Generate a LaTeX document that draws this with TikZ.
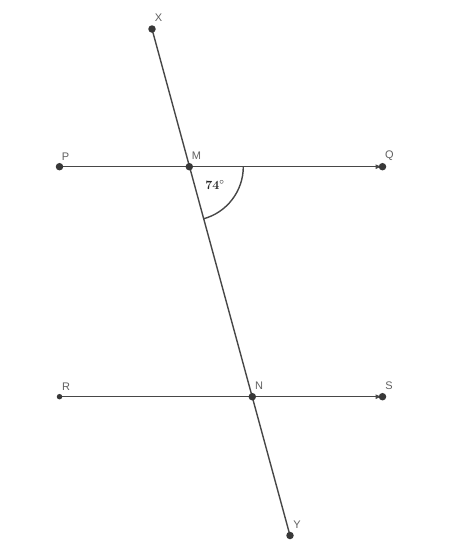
\documentclass[tikz,border=0pt]{standalone}
\usepackage{fontspec}
\newfontfamily\lblfont{Liberation Sans}
\usetikzlibrary{arrows.meta,calc}
\begin{document}
\begin{tikzpicture}[x=1pt,y=-1pt,
  seg/.style={draw=black!72, line width=1.4pt},
  pt/.style={circle, fill=black!78, inner sep=0pt, minimum size=7.5pt},
  spt/.style={circle, fill=black!78, inner sep=0pt, minimum size=5.5pt},
  lbl/.style={text=black!62, font=\lblfont\fontsize{11}{13}\selectfont, inner sep=0pt},
  tip/.style={-{Latex[length=7pt,width=5pt]}}]
\useasboundingbox (0,0) rectangle (474,558);
\fill[white] (0,0) rectangle (474,558);
\coordinate (X) at (152,29);
\coordinate (Y) at (290,535.5);
\coordinate (M) at (189.3,166.7);
\coordinate (N) at (252.3,396.7);
\coordinate (P) at (59.5,166.7);
\coordinate (Q) at (382.5,166.7);
\coordinate (R) at (59.5,396.7);
\coordinate (S) at (382.5,396.7);
% lines
\draw[seg] (X) -- (Y);
\draw[seg,tip] (P) -- (Q);
\draw[seg,tip] (R) -- (S);
% angle arc
\draw[seg] ($(M)+(54,0)$) arc[start angle=0, end angle=74.8, radius=54] coordinate (arcend);
% dots
\node[pt] (Xd) at (X) {};
\node[pt] (Yd) at (Y) {};
\node[pt] (Md) at (M) {};
\node[pt] (Nd) at (N) {};
\node[pt] (Pd) at (P) {};
\node[pt] (Qd) at (Q) {};
\node[spt] (Rd) at (R) {};
\node[pt] (Sd) at (S) {};
% labels
\node[lbl] (Xl) at (158.5,18) {X};
\node[lbl] (Ml) at (196.5,155.5) {M};
\node[lbl] (Pl) at (65.5,156.5) {P};
\node[lbl] (Ql) at (389.5,156) {Q};
\node[lbl] (Rl) at (66,386.5) {R};
\node[lbl] (Nl) at (259,385.5) {N};
\node[lbl] (Sl) at (389,386) {S};
\node[lbl] (Yl) at (297,524.5) {Y};
\node[text=black!85, inner sep=0pt, font=\fontsize{12.5}{14}\selectfont\bfseries] (ang) at (215,185) {74$^\circ$};
\end{tikzpicture}
\end{document}
